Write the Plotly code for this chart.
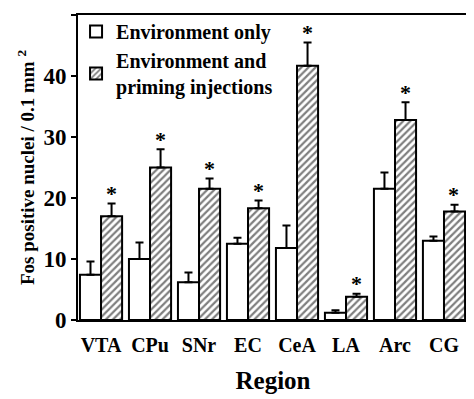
import plotly.graph_objects as go

regions = ["VTA", "CPu", "SNr", "EC", "CeA", "LA", "Arc", "CG"]
env_only = [7.4, 10.0, 6.2, 12.5, 11.8, 1.2, 21.5, 13.0]
env_only_err = [2.2, 2.7, 1.6, 1.0, 3.7, 0.4, 2.7, 0.7]
env_prime = [17.0, 25.0, 21.5, 18.3, 41.7, 3.8, 32.8, 17.8]
env_prime_err = [2.1, 3.0, 1.7, 1.3, 3.8, 0.5, 2.9, 1.1]

ff = "Liberation Serif"

fig = go.Figure()
fig.add_trace(go.Bar(
    x=regions, y=env_only, name="Environment only",
    marker=dict(color="white", line=dict(color="black", width=2)),
    error_y=dict(type="data", array=env_only_err, arrayminus=[0]*len(regions),
                 symmetric=False, color="black", thickness=2, width=4),
))
fig.add_trace(go.Bar(
    x=regions, y=env_prime, name="Environment and<br>priming injections",
    marker=dict(color="white", line=dict(color="black", width=2),
                pattern=dict(shape="/", fgcolor="black", bgcolor="white",
                             size=5, solidity=0.45)),
    error_y=dict(type="data", array=env_prime_err, arrayminus=[0]*len(regions),
                 symmetric=False, color="black", thickness=2, width=4),
))

for r, v, e in zip(regions, env_prime, env_prime_err):
    fig.add_annotation(x=r, y=v + e, xref="x", yref="y", text="*",
                       showarrow=False, xshift=10, yshift=10,
                       font=dict(family=ff, size=22, color="black"))

# page body has an 8px margin; figure is sized/margined to compensate
fig.update_layout(
    width=466, height=391,
    margin=dict(l=70, r=6, t=4, b=79),
    plot_bgcolor="white", paper_bgcolor="white",
    barmode="group", bargap=0.14, bargroupgap=0,
    font=dict(family=ff, color="black", weight="bold"),
    showlegend=True,
    legend=dict(x=-0.005, y=1.01, xanchor="left", yanchor="top",
                bgcolor="rgba(0,0,0,0)",
                font=dict(size=20, family=ff, weight="bold"),
                tracegroupgap=0, itemwidth=30),
)
fig.update_xaxes(
    range=[-0.47, 7.49],
    showline=True, linecolor="black", linewidth=2, mirror=True,
    ticks="", tickfont=dict(size=20, family=ff, weight="bold"),
    ticklabelstandoff=6,
    title=dict(text="Region", font=dict(size=25, family=ff, weight="bold"), standoff=16),
)
fig.update_yaxes(
    range=[0, 50], tickvals=[0, 10, 20, 30, 40, 50],
    showline=True, linecolor="black", linewidth=2, mirror=True,
    ticks="outside", ticklen=5, tickwidth=2, tickcolor="black",
    showgrid=False, zeroline=False,
    tickfont=dict(size=23, family=ff, weight="bold"),
    title=dict(text="Fos positive nuclei / 0.1 mm <sup>2</sup>",
               font=dict(size=19, family=ff, weight="bold"), standoff=4),
)

fig.write_html("out.html")
